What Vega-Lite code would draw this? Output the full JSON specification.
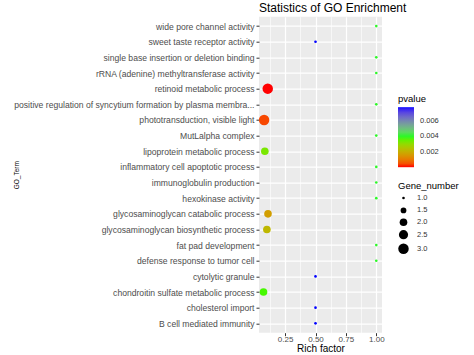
{
  "$schema": "https://vega.github.io/schema/vega-lite/v6.json",
  "width": 123,
  "height": 316,
  "autosize": {"type": "none"},
  "padding": {"left": 259, "top": 16.7, "right": 92, "bottom": 22.3},
  "title": {"text": "Statistics of GO Enrichment", "anchor": "start", "frame": "group", "fontSize": 12, "fontWeight": "normal", "color": "#000000", "offset": 2, "font": "Liberation Sans"},
  "data": {
    "values": [
      {"GO_Term": "wide pore channel activity", "Rich_factor": 1.0, "pvalue": 0.0040, "Gene_number": 1},
      {"GO_Term": "sweet taste receptor activity", "Rich_factor": 0.5, "pvalue": 0.0077, "Gene_number": 1},
      {"GO_Term": "single base insertion or deletion binding", "Rich_factor": 1.0, "pvalue": 0.0040, "Gene_number": 1},
      {"GO_Term": "rRNA (adenine) methyltransferase activity", "Rich_factor": 1.0, "pvalue": 0.0040, "Gene_number": 1},
      {"GO_Term": "retinoid metabolic process", "Rich_factor": 0.107, "pvalue": 0.00005, "Gene_number": 3},
      {"GO_Term": "positive regulation of syncytium formation by plasma membra...", "Rich_factor": 1.0, "pvalue": 0.0040, "Gene_number": 1},
      {"GO_Term": "phototransduction, visible light", "Rich_factor": 0.077, "pvalue": 0.0004, "Gene_number": 3},
      {"GO_Term": "MutLalpha complex", "Rich_factor": 1.0, "pvalue": 0.0040, "Gene_number": 1},
      {"GO_Term": "lipoprotein metabolic process", "Rich_factor": 0.083, "pvalue": 0.0033, "Gene_number": 2},
      {"GO_Term": "inflammatory cell apoptotic process", "Rich_factor": 1.0, "pvalue": 0.0040, "Gene_number": 1},
      {"GO_Term": "immunoglobulin production", "Rich_factor": 1.0, "pvalue": 0.0040, "Gene_number": 1},
      {"GO_Term": "hexokinase activity", "Rich_factor": 1.0, "pvalue": 0.0040, "Gene_number": 1},
      {"GO_Term": "glycosaminoglycan catabolic process", "Rich_factor": 0.109, "pvalue": 0.0017, "Gene_number": 2},
      {"GO_Term": "glycosaminoglycan biosynthetic process", "Rich_factor": 0.1, "pvalue": 0.0022, "Gene_number": 2},
      {"GO_Term": "fat pad development", "Rich_factor": 1.0, "pvalue": 0.0040, "Gene_number": 1},
      {"GO_Term": "defense response to tumor cell", "Rich_factor": 1.0, "pvalue": 0.0040, "Gene_number": 1},
      {"GO_Term": "cytolytic granule", "Rich_factor": 0.5, "pvalue": 0.0077, "Gene_number": 1},
      {"GO_Term": "chondroitin sulfate metabolic process", "Rich_factor": 0.072, "pvalue": 0.0037, "Gene_number": 2},
      {"GO_Term": "cholesterol import", "Rich_factor": 0.5, "pvalue": 0.0077, "Gene_number": 1},
      {"GO_Term": "B cell mediated immunity", "Rich_factor": 0.5, "pvalue": 0.0077, "Gene_number": 1}
    ]
  },
  "mark": {"type": "circle", "opacity": 1},
  "encoding": {
    "x": {
      "field": "Rich_factor",
      "type": "quantitative",
      "title": "Rich factor",
      "scale": {"domain": [0.035, 1.047], "nice": false, "zero": false},
      "axis": {
        "values": [0.125, 0.25, 0.375, 0.5, 0.625, 0.75, 0.875, 1.0],
        "labelExpr": "round(datum.value*1000) % 250 == 0 ? format(datum.value, '.2f') : ''",
        "grid": true,
        "gridColor": "#FFFFFF",
        "gridWidth": {"condition": {"test": "round(datum.value*1000) % 250 != 0", "value": 0.6}, "value": 1.2},
        "gridOpacity": 1,
        "domain": false,
        "tickOpacity": {"condition": {"test": "round(datum.value*1000) % 250 != 0", "value": 0}, "value": 1},
        "tickColor": "#333333",
        "tickSize": 3,
        "labelFontSize": 8,
        "labelColor": "#4D4D4D",
        "labelPadding": 0,
        "labelFlush": false,
        "titleFontSize": 10,
        "titleFontWeight": "normal",
        "titleColor": "#000000",
        "titlePadding": 0
      }
    },
    "y": {
      "field": "GO_Term",
      "type": "nominal",
      "title": "GO_Term",
      "sort": [
        "wide pore channel activity",
        "sweet taste receptor activity",
        "single base insertion or deletion binding",
        "rRNA (adenine) methyltransferase activity",
        "retinoid metabolic process",
        "positive regulation of syncytium formation by plasma membra...",
        "phototransduction, visible light",
        "MutLalpha complex",
        "lipoprotein metabolic process",
        "inflammatory cell apoptotic process",
        "immunoglobulin production",
        "hexokinase activity",
        "glycosaminoglycan catabolic process",
        "glycosaminoglycan biosynthetic process",
        "fat pad development",
        "defense response to tumor cell",
        "cytolytic granule",
        "chondroitin sulfate metabolic process",
        "cholesterol import",
        "B cell mediated immunity"
      ],
      "scale": {"padding": 0.6},
      "axis": {
        "grid": true,
        "gridColor": "#FFFFFF",
        "gridWidth": 1.2,
        "domain": false,
        "tickColor": "#333333",
        "tickSize": 3,
        "labelFontSize": 8.6,
        "labelColor": "#4D4D4D",
        "labelPadding": 2,
        "labelLimit": 400,
        "titleFontSize": 6.5,
        "titleFontWeight": "normal",
        "titleColor": "#000000",
        "titleX": -240,
        "titleY": 158,
        "titleAngle": -90,
        "titleBaseline": "bottom",
        "titleAlign": "center"
      }
    },
    "color": {
      "field": "pvalue",
      "type": "quantitative",
      "title": "pvalue",
      "scale": {"domain": [0.00005, 0.003875, 0.0077], "range": ["#FF0000", "#00FF00", "#0000FF"], "interpolate": "lab"},
      "legend": {
        "orient": "none",
        "legendX": 139,
        "legendY": 77,
        "direction": "vertical",
        "gradientLength": 60,
        "gradientThickness": 16,
        "gradientStrokeWidth": 0,
        "values": [0.002, 0.004, 0.006],
        "format": ".3f",
        "labelFontSize": 7.5,
        "labelColor": "#333333",
        "labelOffset": 6,
        "titleFontSize": 9.5,
        "titleFontWeight": "normal",
        "titleColor": "#000000",
        "titlePadding": 4
      }
    },
    "size": {
      "field": "Gene_number",
      "type": "quantitative",
      "title": "Gene_number",
      "scale": {"domain": [1, 3], "range": [7, 110], "zero": false},
      "legend": {
        "orient": "none",
        "legendX": 139,
        "legendY": 164,
        "values": [1, 1.5, 2, 2.5, 3],
        "format": ".1f",
        "symbolType": "circle",
        "symbolFillColor": "#000000",
        "symbolStrokeWidth": 0,
        "symbolOpacity": 1,
        "labelFontSize": 7.5,
        "labelColor": "#333333",
        "labelOffset": 8,
        "rowPadding": 3.5,
        "titleFontSize": 9.5,
        "titleFontWeight": "normal",
        "titleColor": "#000000",
        "titlePadding": 4
      }
    }
  },
  "config": {
    "view": {"fill": "#EBEBEB", "stroke": null},
    "font": "Liberation Sans"
  }
}
